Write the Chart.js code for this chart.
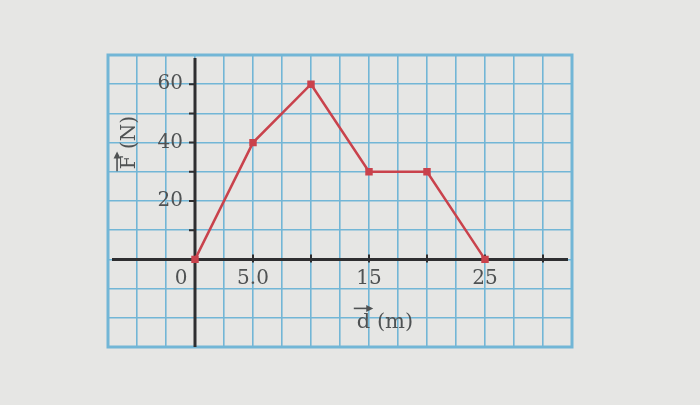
<!DOCTYPE html>
<html>
<head>
<meta charset="utf-8">
<script src="https://cdn.jsdelivr.net/npm/chart.js@4.4.0/dist/chart.umd.min.js"></script>
<style>
  html, body { margin: 0; padding: 0; background: #e6e6e4; }
  #wrap { width: 700px; height: 405px; }
</style>
</head>
<body>
<div id="wrap"><canvas id="myChart" width="700" height="405"></canvas></div>
<script>
// force vs displacement graph
const distances = [0, 5, 10, 15, 20, 25];
const forces = [0, 40, 60, 30, 30, 0];
const xTickValues = [0, 5, 15, 25];
const xTickLabels = ['0', '5.0', '15', '25'];
const yTickValues = [20, 40, 60];
const yTickLabels = ['20', '40', '60'];
const xTitle = 'd';
const xUnit = ' (m)';
const yTitle = 'F';
const yUnit = ' (N)';

const gridBlue = '#72b6d6';
const axisDark = '#2e2e30';
const labelGrey = '#4f5253';
const serif = '"DejaVu Serif", "Liberation Serif", serif';

// draws axes through the origin, tick labels, titles and the outer frame
const paperPlugin = {
    id: 'paper',
    beforeDraw(chart) {
        const ctx = chart.ctx;
        ctx.save();
        ctx.fillStyle = '#e6e6e4';
        ctx.fillRect(0, 0, chart.width, chart.height);
        ctx.restore();
    },
    beforeDatasetsDraw(chart) {
        const ctx = chart.ctx;
        const area = chart.chartArea;
        const xs = chart.scales.x;
        const ys = chart.scales.y;
        const x0 = xs.getPixelForValue(0);
        const y0 = ys.getPixelForValue(0);
        ctx.save();
        // frame
        ctx.strokeStyle = gridBlue;
        ctx.lineWidth = 3;
        ctx.strokeRect(area.left, area.top, area.right - area.left, area.bottom - area.top);
        // axes
        ctx.strokeStyle = axisDark;
        ctx.lineWidth = 3;
        ctx.beginPath();
        ctx.moveTo(area.left + 4, y0);
        ctx.lineTo(area.right - 4, y0);
        ctx.moveTo(x0, area.top + 3);
        ctx.lineTo(x0, area.bottom);
        ctx.stroke();
        // small tick marks
        ctx.lineWidth = 2;
        ctx.beginPath();
        for (let v = 5; v <= 30; v += 5) {
            const px = xs.getPixelForValue(v);
            ctx.moveTo(px, y0 - 5);
            ctx.lineTo(px, y0 + 3);
        }
        for (let v = 10; v <= 60; v += 10) {
            const py = ys.getPixelForValue(v);
            ctx.moveTo(x0 - 6, py);
            ctx.lineTo(x0, py);
        }
        ctx.stroke();
        ctx.restore();
    },
    afterDraw(chart) {
        const ctx = chart.ctx;
        const xs = chart.scales.x;
        const ys = chart.scales.y;
        const x0 = xs.getPixelForValue(0);
        const y0 = ys.getPixelForValue(0);
        ctx.save();
        ctx.fillStyle = labelGrey;
        ctx.font = '20px ' + serif;
        ctx.textBaseline = 'middle';
        // y labels
        ctx.textAlign = 'right';
        yTickValues.forEach(function(v, i) {
            ctx.fillText(yTickLabels[i], x0 - 12, ys.getPixelForValue(v));
        });
        // x labels
        ctx.textAlign = 'center';
        xTickValues.forEach(function(v, i) {
            let px = xs.getPixelForValue(v);
            if (v === 0) px = x0 - 14;
            ctx.fillText(xTickLabels[i], px, y0 + 19);
        });

        // x title with vector arrow
        ctx.font = '21px ' + serif;
        ctx.textAlign = 'left';
        const full = ctx.measureText(xTitle + xUnit).width;
        const dW = ctx.measureText(xTitle).width;
        const tx = (xs.getPixelForValue(15) + 16) - full / 2;
        const ty = y0 + 63;
        ctx.fillText(xTitle + xUnit, tx, ty);
        drawArrow(ctx, tx - 3, tx + dW + 3, ty - 14);

        // y title, rotated
        ctx.translate(xs.getPixelForValue(-5.6), ys.getPixelForValue(40));
        ctx.rotate(-Math.PI / 2);
        ctx.font = '20px ' + serif;
        const fullY = ctx.measureText(yTitle + yUnit).width;
        const fW = ctx.measureText(yTitle).width;
        ctx.fillText(yTitle + yUnit, -fullY / 2, 0);
        drawArrow(ctx, -fullY / 2 - 2, -fullY / 2 + fW + 4, -13);
        ctx.restore();
    }
};

function drawArrow(ctx, xa, xb, y) {
    ctx.save();
    ctx.strokeStyle = labelGrey;
    ctx.fillStyle = labelGrey;
    ctx.lineWidth = 1.6;
    ctx.beginPath();
    ctx.moveTo(xa, y);
    ctx.lineTo(xb - 3, y);
    ctx.stroke();
    ctx.beginPath();
    ctx.moveTo(xb, y);
    ctx.lineTo(xb - 7, y - 3.5);
    ctx.lineTo(xb - 7, y + 3.5);
    ctx.closePath();
    ctx.fill();
    ctx.restore();
}

const ctx = document.getElementById('myChart').getContext('2d');
new Chart(ctx, {
    type: 'line',
    data: {
        datasets: [{
            data: distances.map(function(d, i) { return { x: d, y: forces[i] }; }),
            borderColor: '#c9424c',
            backgroundColor: '#c9424c',
            borderWidth: 2.5,
            pointStyle: 'rect',
            pointRadius: 3.5,
            tension: 0,
            fill: false
        }]
    },
    options: {
        responsive: false,
        animation: false,
        layout: { padding: { left: 108, right: 128, top: 55, bottom: 58 } },
        plugins: {
            legend: { display: false },
            tooltip: { enabled: false }
        },
        scales: {
            x: {
                type: 'linear',
                min: -7.5,
                max: 32.5,
                ticks: { display: false, stepSize: 2.5 },
                grid: { color: gridBlue, lineWidth: 1.6, drawTicks: false },
                border: { display: false }
            },
            y: {
                min: -30,
                max: 70,
                ticks: { display: false, stepSize: 10 },
                grid: { color: gridBlue, lineWidth: 1.6, drawTicks: false },
                border: { display: false }
            }
        }
    },
    plugins: [paperPlugin]
});
</script>
</body>
</html>
